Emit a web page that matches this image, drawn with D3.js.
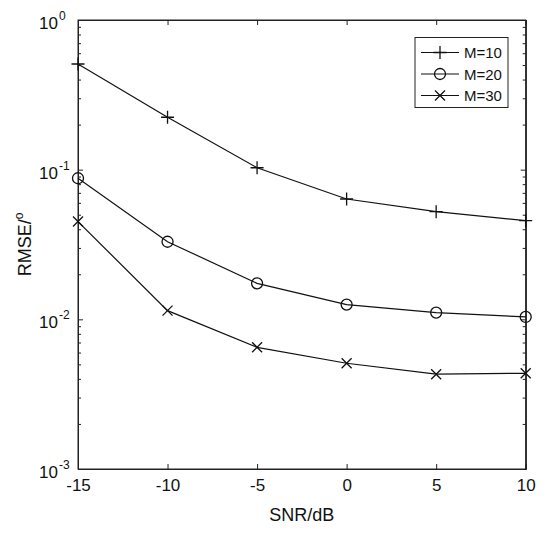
<!DOCTYPE html>
<html lang="en">
<head>
<meta charset="UTF-8">
<title>RMSE vs SNR</title>
<script src="https://cdn.jsdelivr.net/npm/d3@7"></script>
<style>
  body { margin: 0; background: #fff; }
  text { font-family: "Liberation Sans", Arial, sans-serif; }
</style>
</head>
<body>
<script>
// data
var snr = [-15, -10, -5, 0, 5, 10];
var m10 = [0.508, 0.224, 0.103, 0.0637, 0.0524, 0.0456];
var m20 = [0.0876, 0.0330, 0.0174, 0.01254, 0.01109, 0.01037];
var m30 = [0.0450, 0.01143, 0.0065, 0.00509, 0.00430, 0.00436];
var seriesNames = ["M=10", "M=20", "M=30"];
var markers = ["plus", "circle", "cross"];
var xTicks = [-15, -10, -5, 0, 5, 10];
var yDecades = [1e-3, 1e-2, 1e-1, 1];

var w = 550, h = 533;
var pLeft = 78, pRight = 525.7, pTop = 20, pBottom = 469;

var svg = d3.select("body").append("svg")
    .attr("width", w)
    .attr("height", h);

var x = d3.scaleLinear().domain([-15, 10]).range([pLeft, pRight]);
var y = d3.scaleLog().domain([1e-3, 1]).range([pBottom, pTop]);

// minor tick values 2..9 for each decade
var minor = [];
yDecades.slice(0, 3).forEach(function (d) {
    for (var k = 2; k <= 9; k++) minor.push(d * k);
});

// frame
svg.append("rect")
    .attr("x", pLeft).attr("y", pTop)
    .attr("width", pRight - pLeft).attr("height", pBottom - pTop)
    .attr("fill", "none").attr("stroke", "#222").attr("stroke-width", 1);

function styleAxis(g) {
    g.select(".domain").attr("stroke", "#222");
    g.selectAll(".tick line").attr("stroke", "#222");
}

// x axis bottom with labels
var gx = svg.append("g")
    .attr("transform", "translate(0," + pBottom + ")")
    .call(d3.axisBottom(x).tickValues(xTicks).tickSize(-5).tickPadding(10)
        .tickFormat(function (d) { return String(d); }));
styleAxis(gx);
gx.selectAll("text")
    .attr("fill", "#111")
    .attr("font-size", "17px")
    .attr("font-family", "Liberation Sans, Arial, sans-serif");

// x axis top, ticks only
var gxt = svg.append("g")
    .attr("transform", "translate(0," + pTop + ")")
    .call(d3.axisTop(x).tickValues(xTicks).tickSize(-5).tickFormat(""));
styleAxis(gxt);

// y axes left/right, major + minor
var gy = svg.append("g")
    .attr("transform", "translate(" + pLeft + ",0)")
    .call(d3.axisLeft(y).tickValues(yDecades).tickSize(-5).tickFormat(""));
styleAxis(gy);
var gym = svg.append("g")
    .attr("transform", "translate(" + pLeft + ",0)")
    .call(d3.axisLeft(y).tickValues(minor).tickSize(-3).tickFormat(""));
styleAxis(gym);
var gyr = svg.append("g")
    .attr("transform", "translate(" + pRight + ",0)")
    .call(d3.axisRight(y).tickValues(yDecades).tickSize(-5).tickFormat(""));
styleAxis(gyr);
var gyrm = svg.append("g")
    .attr("transform", "translate(" + pRight + ",0)")
    .call(d3.axisRight(y).tickValues(minor).tickSize(-3).tickFormat(""));
styleAxis(gyrm);

// y labels as 10^n
var ylab = svg.append("g").selectAll("text")
    .data(yDecades).enter()
    .append("text")
    .attr("x", 39)
    .attr("y", function (d) { return y(d) + 9; })
    .attr("fill", "#111")
    .attr("font-size", "17px");
ylab.append("tspan").text("10");
ylab.append("tspan")
    .attr("dy", -9)
    .attr("dx", 1)
    .attr("font-size", "12px")
    .text(function (d) { return String(Math.round(Math.log10(d))); });

// axis titles
svg.append("text")
    .attr("x", (pLeft + pRight) / 2)
    .attr("y", 521)
    .attr("text-anchor", "middle")
    .attr("font-size", "18px")
    .attr("fill", "#111")
    .text("SNR/dB");

var yt = svg.append("text")
    .attr("transform", "translate(31," + ((pTop + pBottom) / 2) + ") rotate(-90)")
    .attr("text-anchor", "middle")
    .attr("font-size", "18px")
    .attr("fill", "#111");
yt.append("tspan").text("RMSE/");
yt.append("tspan").attr("dy", -8).attr("font-size", "12px").text("o");

// series
var allSeries = [m10, m20, m30];
var line = d3.line()
    .x(function (d, i) { return x(snr[i]); })
    .y(function (d) { return y(d); });

function drawMarker(g, type, cx, cy) {
    if (type === "plus") {
        g.append("path")
            .attr("d", "M" + (cx - 6.5) + "," + cy + "H" + (cx + 6.5) +
                "M" + cx + "," + (cy - 6.5) + "V" + (cy + 6.5))
            .attr("stroke", "#111").attr("stroke-width", 1.3).attr("fill", "none");
    } else if (type === "circle") {
        g.append("circle")
            .attr("cx", cx).attr("cy", cy).attr("r", 5.5)
            .attr("stroke", "#111").attr("stroke-width", 1.3).attr("fill", "none");
    } else {
        g.append("path")
            .attr("d", "M" + (cx - 5) + "," + (cy - 5) + "L" + (cx + 5) + "," + (cy + 5) +
                "M" + (cx - 5) + "," + (cy + 5) + "L" + (cx + 5) + "," + (cy - 5))
            .attr("stroke", "#111").attr("stroke-width", 1.3).attr("fill", "none");
    }
}

allSeries.forEach(function (s, k) {
    svg.append("path")
        .datum(s)
        .attr("d", line)
        .attr("fill", "none")
        .attr("stroke", "#111")
        .attr("stroke-width", 1.2);
    var g = svg.append("g");
    s.forEach(function (v, i) {
        drawMarker(g, markers[k], x(snr[i]), y(v));
    });
});

// legend
var lg = svg.append("g");
lg.append("rect")
    .attr("x", 415).attr("y", 37.5)
    .attr("width", 93).attr("height", 70)
    .attr("fill", "#fff").attr("stroke", "#222").attr("stroke-width", 1);
seriesNames.forEach(function (name, k) {
    var ly = 52.5 + k * 21.5;
    lg.append("line")
        .attr("x1", 421).attr("x2", 459)
        .attr("y1", ly).attr("y2", ly)
        .attr("stroke", "#111").attr("stroke-width", 1.2);
    drawMarker(lg, markers[k], 440, ly);
    lg.append("text")
        .attr("x", 464).attr("y", ly + 5.5)
        .attr("font-size", "15px")
        .attr("fill", "#111")
        .text(name);
});
</script>
</body>
</html>
